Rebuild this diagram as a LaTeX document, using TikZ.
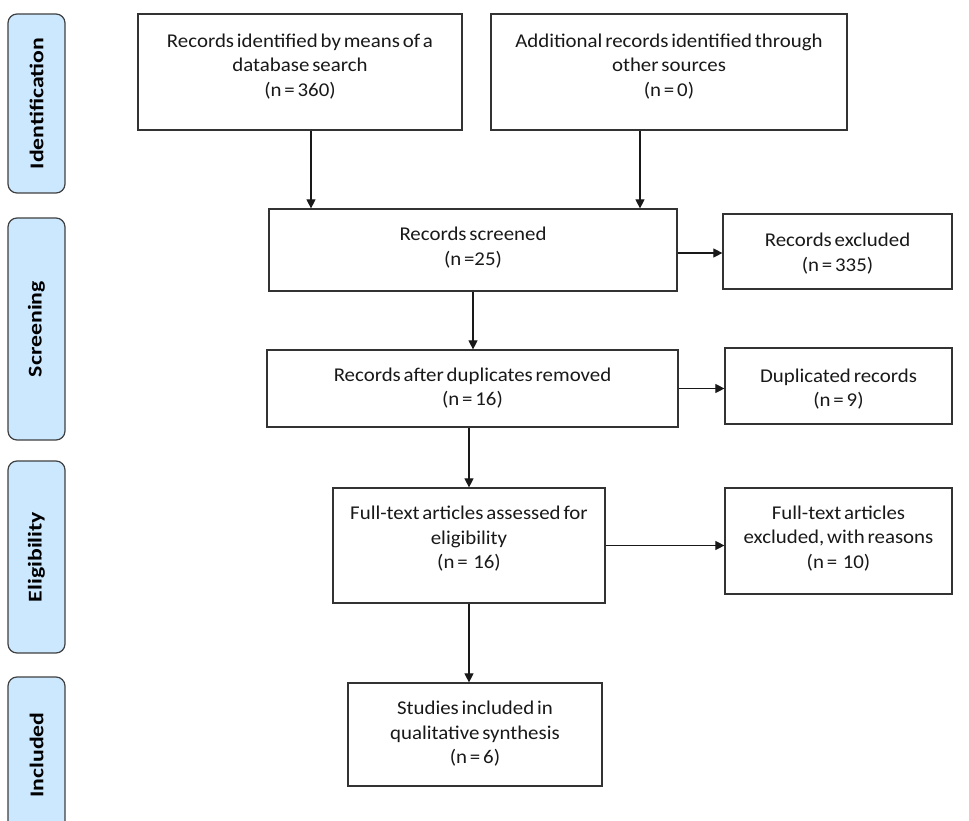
\documentclass[tikz,border=0pt]{standalone}
\usepackage{fontspec}
\setmainfont{Carlito}[FakeStretch=1.07, WordSpace=0.6]
\newfontfamily\phasefont{Carlito}[FakeStretch=1.22]
\usetikzlibrary{arrows.meta}
\definecolor{phasefill}{HTML}{CCE8FF}
\definecolor{linecol}{HTML}{333333}
\newcommand\bxt[2]{\raisebox{\dimexpr #1-0.5\height+0.5\depth\relax}[0pt][0pt]{\begin{tabular}{@{}c@{}}#2\end{tabular}}}
\begin{document}
\begin{tikzpicture}[x=1pt,y=-1pt,
  box/.style={draw=linecol, line width=1.2pt, rectangle, inner sep=0pt,
    font=\fontsize{19.5}{24.5}\selectfont, text=black!90},
  phase/.style={draw=black!75, line width=1.2pt, fill=phasefill, rounded corners=9pt,
    minimum height=57pt, inner sep=0pt, rotate=90,
    font=\phasefont\bfseries\fontsize{19.5}{22}\selectfont, text=black},
  arr/.style={line width=1.1pt, draw=black!90, -{Triangle[length=9pt,width=9pt]}},
]
\useasboundingbox (0,0) rectangle (969,821);
\fill[white] (0,0) rectangle (969,821);

% phase labels
\node[phase, minimum width=179pt] (pid) at (36.5,103.5) {Identification};
\node[phase, minimum width=222pt] (pscr) at (36.5,329) {Screening};
\node[phase, minimum width=192pt] (pel) at (36.5,557) {Eligibility};
\begin{scope}
\clip (0,0) rectangle (969,821);
\node[phase, minimum width=156pt] (pinc) at (36.5,755) {Included};
\end{scope}

% boxes
\node[box, minimum width=324pt, minimum height=116pt] (id1) at (300,72)
  {\bxt{5pt}{Records identified by means of a\\database search\\(n = 360)}};
\node[box, minimum width=356pt, minimum height=116pt] (id2) at (669,72)
  {\bxt{5pt}{Additional records identified through\\other sources\\(n = 0)}};
\node[box, minimum width=408pt, minimum height=82pt] (scr) at (473,250)
  {\bxt{2pt}{Records screened\\(n =25)}};
\node[box, minimum width=229pt, minimum height=75pt] (exc) at (837.5,251.5)
  {\bxt{-2.5pt}{Records excluded\\(n = 335)}};
\node[box, minimum width=411pt, minimum height=77pt] (dup) at (472.5,388.5)
  {\bxt{0pt}{Records after duplicates removed\\(n = 16)}};
\node[box, minimum width=227pt, minimum height=76pt] (dupx) at (838.5,386)
  {\bxt{-3.5pt}{Duplicated records\\(n = 9)}};
\node[box, minimum width=272pt, minimum height=115pt] (ft) at (469,545.5)
  {\bxt{6pt}{Full-text articles assessed for\\eligibility\\(n =\ \ 16)}};
\node[box, minimum width=227pt, minimum height=106pt] (ftx) at (838.5,541)
  {\bxt{2pt}{Full-text articles\\excluded, with reasons\\(n =\ \ 10)}};
\node[box, minimum width=254pt, minimum height=103pt] (inc) at (475,734.5)
  {\bxt{0pt}{Studies included in\\qualitative synthesis\\(n = 6)}};

% connectors
\draw[arr] ([xshift=11pt]id1.south) -- ([xshift=11pt]id1.south |- scr.north);
\draw[arr] ([xshift=-29pt]id2.south) -- ([xshift=-29pt]id2.south |- scr.north);
\draw[arr] ([yshift=-3pt]scr.east) -- ([yshift=-3pt]scr.east -| exc.west);
\draw[arr] (scr.south) -- (scr.south |- dup.north);
\draw[arr] (dup.east) -- (dup.east -| dupx.west);
\draw[arr] (ft.north |- dup.south) -- (ft.north);
\draw[arr] (ft.east) -- (ft.east -| ftx.west);
\draw[arr] (ft.south) -- (ft.south |- inc.north);
\end{tikzpicture}
\end{document}
